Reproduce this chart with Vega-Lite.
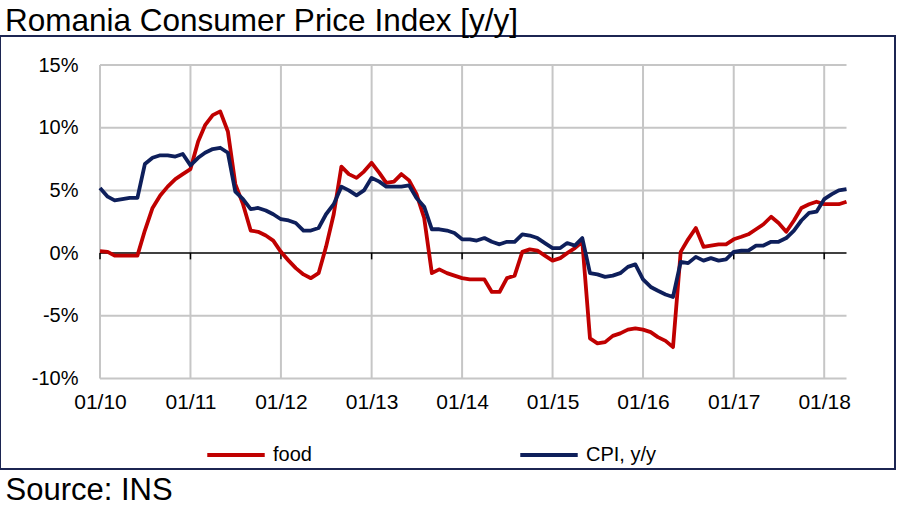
{
  "$schema": "https://vega.github.io/schema/vega-lite/v6.json",
  "width": 895,
  "height": 433,
  "autosize": {"type": "none"},
  "padding": {"left": 0, "top": 36, "right": 5, "bottom": 41},
  "background": "white",
  "title": {"text": "Romania Consumer Price Index [y/y]", "anchor": "start", "frame": "group", "orient": "top", "offset": 5, "baseline": "alphabetic", "dx": 5, "dy": 31, "font": "Liberation Sans", "fontSize": 31.5, "fontWeight": "normal", "color": "#000000"},
  "config": {"view": {"stroke": "#1c2552", "strokeWidth": 2}, "font": "Liberation Sans"},
  "datasets": {
    "cpi": [
      {"date": "2010-01-01", "food": 0.15, "cpi": 5.2},
      {"date": "2010-02-01", "food": 0.1, "cpi": 4.5},
      {"date": "2010-03-01", "food": -0.2, "cpi": 4.2},
      {"date": "2010-04-01", "food": -0.2, "cpi": 4.3},
      {"date": "2010-05-01", "food": -0.2, "cpi": 4.4},
      {"date": "2010-06-01", "food": -0.2, "cpi": 4.4},
      {"date": "2010-07-01", "food": 1.8, "cpi": 7.1},
      {"date": "2010-08-01", "food": 3.6, "cpi": 7.6},
      {"date": "2010-09-01", "food": 4.6, "cpi": 7.8},
      {"date": "2010-10-01", "food": 5.3, "cpi": 7.8},
      {"date": "2010-11-01", "food": 5.9, "cpi": 7.7},
      {"date": "2010-12-01", "food": 6.3, "cpi": 7.9},
      {"date": "2011-01-01", "food": 6.7, "cpi": 7.0},
      {"date": "2011-02-01", "food": 8.9, "cpi": 7.6},
      {"date": "2011-03-01", "food": 10.2, "cpi": 8.0},
      {"date": "2011-04-01", "food": 11.0, "cpi": 8.3},
      {"date": "2011-05-01", "food": 11.3, "cpi": 8.4},
      {"date": "2011-06-01", "food": 9.7, "cpi": 8.0},
      {"date": "2011-07-01", "food": 5.5, "cpi": 4.9},
      {"date": "2011-08-01", "food": 3.9, "cpi": 4.3},
      {"date": "2011-09-01", "food": 1.8, "cpi": 3.5},
      {"date": "2011-10-01", "food": 1.7, "cpi": 3.6},
      {"date": "2011-11-01", "food": 1.4, "cpi": 3.4},
      {"date": "2011-12-01", "food": 1.0, "cpi": 3.1},
      {"date": "2012-01-01", "food": 0.1, "cpi": 2.7},
      {"date": "2012-02-01", "food": -0.6, "cpi": 2.6},
      {"date": "2012-03-01", "food": -1.2, "cpi": 2.4},
      {"date": "2012-04-01", "food": -1.7, "cpi": 1.8},
      {"date": "2012-05-01", "food": -2.0, "cpi": 1.8},
      {"date": "2012-06-01", "food": -1.6, "cpi": 2.0},
      {"date": "2012-07-01", "food": 0.5, "cpi": 3.1},
      {"date": "2012-08-01", "food": 3.1, "cpi": 3.9},
      {"date": "2012-09-01", "food": 6.9, "cpi": 5.3},
      {"date": "2012-10-01", "food": 6.3, "cpi": 5.0},
      {"date": "2012-11-01", "food": 6.0, "cpi": 4.6},
      {"date": "2012-12-01", "food": 6.5, "cpi": 5.0},
      {"date": "2013-01-01", "food": 7.2, "cpi": 6.0},
      {"date": "2013-02-01", "food": 6.4, "cpi": 5.7},
      {"date": "2013-03-01", "food": 5.6, "cpi": 5.3},
      {"date": "2013-04-01", "food": 5.7, "cpi": 5.3},
      {"date": "2013-05-01", "food": 6.3, "cpi": 5.3},
      {"date": "2013-06-01", "food": 5.8, "cpi": 5.4},
      {"date": "2013-07-01", "food": 4.7, "cpi": 4.4},
      {"date": "2013-08-01", "food": 2.8, "cpi": 3.7},
      {"date": "2013-09-01", "food": -1.6, "cpi": 1.9},
      {"date": "2013-10-01", "food": -1.3, "cpi": 1.9},
      {"date": "2013-11-01", "food": -1.6, "cpi": 1.8},
      {"date": "2013-12-01", "food": -1.8, "cpi": 1.6},
      {"date": "2014-01-01", "food": -2.0, "cpi": 1.1},
      {"date": "2014-02-01", "food": -2.1, "cpi": 1.1},
      {"date": "2014-03-01", "food": -2.1, "cpi": 1.0},
      {"date": "2014-04-01", "food": -2.1, "cpi": 1.2},
      {"date": "2014-05-01", "food": -3.1, "cpi": 0.9},
      {"date": "2014-06-01", "food": -3.1, "cpi": 0.7},
      {"date": "2014-07-01", "food": -2.0, "cpi": 0.9},
      {"date": "2014-08-01", "food": -1.8, "cpi": 0.9},
      {"date": "2014-09-01", "food": 0.1, "cpi": 1.5},
      {"date": "2014-10-01", "food": 0.3, "cpi": 1.4},
      {"date": "2014-11-01", "food": 0.2, "cpi": 1.2},
      {"date": "2014-12-01", "food": -0.2, "cpi": 0.8},
      {"date": "2015-01-01", "food": -0.6, "cpi": 0.4},
      {"date": "2015-02-01", "food": -0.4, "cpi": 0.4},
      {"date": "2015-03-01", "food": 0.0, "cpi": 0.8},
      {"date": "2015-04-01", "food": 0.4, "cpi": 0.6},
      {"date": "2015-05-01", "food": 0.9, "cpi": 1.2},
      {"date": "2015-06-01", "food": -6.8, "cpi": -1.6},
      {"date": "2015-07-01", "food": -7.2, "cpi": -1.7},
      {"date": "2015-08-01", "food": -7.1, "cpi": -1.9},
      {"date": "2015-09-01", "food": -6.6, "cpi": -1.8},
      {"date": "2015-10-01", "food": -6.4, "cpi": -1.6},
      {"date": "2015-11-01", "food": -6.1, "cpi": -1.1},
      {"date": "2015-12-01", "food": -6.0, "cpi": -0.9},
      {"date": "2016-01-01", "food": -6.1, "cpi": -2.1},
      {"date": "2016-02-01", "food": -6.3, "cpi": -2.7},
      {"date": "2016-03-01", "food": -6.7, "cpi": -3.0},
      {"date": "2016-04-01", "food": -7.0, "cpi": -3.3},
      {"date": "2016-05-01", "food": -7.5, "cpi": -3.5},
      {"date": "2016-06-01", "food": 0.1, "cpi": -0.7},
      {"date": "2016-07-01", "food": 1.1, "cpi": -0.8},
      {"date": "2016-08-01", "food": 2.0, "cpi": -0.3},
      {"date": "2016-09-01", "food": 0.5, "cpi": -0.6},
      {"date": "2016-10-01", "food": 0.6, "cpi": -0.4},
      {"date": "2016-11-01", "food": 0.7, "cpi": -0.6},
      {"date": "2016-12-01", "food": 0.7, "cpi": -0.5},
      {"date": "2017-01-01", "food": 1.1, "cpi": 0.1},
      {"date": "2017-02-01", "food": 1.3, "cpi": 0.2},
      {"date": "2017-03-01", "food": 1.5, "cpi": 0.2},
      {"date": "2017-04-01", "food": 1.9, "cpi": 0.6},
      {"date": "2017-05-01", "food": 2.3, "cpi": 0.6},
      {"date": "2017-06-01", "food": 2.9, "cpi": 0.9},
      {"date": "2017-07-01", "food": 2.4, "cpi": 0.9},
      {"date": "2017-08-01", "food": 1.7, "cpi": 1.2},
      {"date": "2017-09-01", "food": 2.6, "cpi": 1.8},
      {"date": "2017-10-01", "food": 3.6, "cpi": 2.6},
      {"date": "2017-11-01", "food": 3.9, "cpi": 3.2},
      {"date": "2017-12-01", "food": 4.1, "cpi": 3.3},
      {"date": "2018-01-01", "food": 3.9, "cpi": 4.3},
      {"date": "2018-02-01", "food": 3.9, "cpi": 4.7},
      {"date": "2018-03-01", "food": 3.9, "cpi": 5.0},
      {"date": "2018-04-01", "food": 4.1, "cpi": 5.1}
    ],
    "years": [
      {"date": "2010-01-01"}, {"date": "2011-01-01"}, {"date": "2012-01-01"},
      {"date": "2013-01-01"}, {"date": "2014-01-01"}, {"date": "2015-01-01"},
      {"date": "2016-01-01"}, {"date": "2017-01-01"}, {"date": "2018-01-01"}
    ],
    "levels": [{"v": -10}, {"v": -5}, {"v": 5}, {"v": 10}, {"v": 15}]
  },
  "layer": [
    {
      "data": {"name": "levels"},
      "mark": {"type": "rule", "color": "#c6c6c6", "strokeWidth": 2},
      "encoding": {
        "y": {"field": "v", "type": "quantitative", "title": null, "scale": {"domain": [-10, 15], "range": [342.5, 29], "nice": false, "zero": false},
          "axis": {"orient": "left", "offset": -100, "domain": false, "ticks": false, "grid": false, "labelPadding": 22, "labelFontSize": 20, "labelColor": "#000000", "labelFont": "Liberation Sans", "values": [-10, -5, 0, 5, 10, 15], "labelExpr": "datum.value + '%'", "title": null}},
        "x": {"datum": {"year": 2010, "month": 1, "date": 1, "utc": true}, "type": "temporal", "title": "Source: INS",
          "scale": {"type": "utc", "domain": [{"year": 2010, "month": 1, "date": 1, "utc": true}, {"year": 2018, "month": 4, "date": 1, "utc": true}], "range": [100, 846.5]},
          "axis": {"orient": "bottom", "offset": -90.5, "domain": false, "ticks": false, "grid": false, "labelPadding": 13, "labelFontSize": 21, "labelFlush": false, "labelColor": "#000000", "labelFont": "Liberation Sans", "values": [{"year": 2010, "month": 1, "date": 1, "utc": true}, {"year": 2011, "month": 1, "date": 1, "utc": true}, {"year": 2012, "month": 1, "date": 1, "utc": true}, {"year": 2013, "month": 1, "date": 1, "utc": true}, {"year": 2014, "month": 1, "date": 1, "utc": true}, {"year": 2015, "month": 1, "date": 1, "utc": true}, {"year": 2016, "month": 1, "date": 1, "utc": true}, {"year": 2017, "month": 1, "date": 1, "utc": true}, {"year": 2018, "month": 1, "date": 1, "utc": true}], "labelExpr": "utcFormat(datum.value, '%m/%y')", "labelOverlap": false, "title": "Source: INS", "titleX": 5, "titleY": 111.5, "titleAlign": "left", "titleBaseline": "middle", "titleFontSize": 31, "titleFontWeight": "normal", "titleColor": "#000000", "titleFont": "Liberation Sans"}},
        "x2": {"datum": {"year": 2018, "month": 4, "date": 1, "utc": true}}
      }
    },
    {
      "data": {"name": "years"},
      "mark": {"type": "rule", "color": "#c6c6c6", "strokeWidth": 2},
      "encoding": {
        "x": {"field": "date", "type": "temporal", "title": "Source: INS"},
        "y": {"datum": -10, "type": "quantitative", "title": null},
        "y2": {"datum": 15}
      }
    },
    {
      "data": {"values": [{"v": 0}]},
      "mark": {"type": "rule", "color": "#000000", "strokeWidth": 1.5},
      "encoding": {
        "y": {"field": "v", "type": "quantitative", "title": null},
        "x": {"datum": {"year": 2010, "month": 1, "date": 1, "utc": true}, "type": "temporal", "title": "Source: INS"},
        "x2": {"datum": {"year": 2018, "month": 4, "date": 1, "utc": true}}
      }
    },
    {
      "data": {"name": "years"},
      "mark": {"type": "rule", "color": "#000000", "strokeWidth": 1.5},
      "encoding": {
        "x": {"field": "date", "type": "temporal", "title": "Source: INS"},
        "y": {"datum": 0, "type": "quantitative", "title": null},
        "y2": {"datum": -0.5}
      }
    },
    {
      "data": {"name": "cpi"},
      "transform": [{"fold": ["food", "cpi"], "as": ["series", "value"]}],
      "mark": {"type": "line", "strokeWidth": 3.8, "strokeJoin": "round"},
      "encoding": {
        "x": {"field": "date", "type": "temporal", "title": "Source: INS"},
        "y": {"field": "value", "type": "quantitative", "title": null},
        "color": {"field": "series", "type": "nominal", "scale": {"domain": ["food", "cpi"], "range": ["#c00000", "#0e1f5b"]}, "legend": {"orient": "none", "legendX": 205, "legendY": 388, "direction": "horizontal", "title": null, "symbolType": "stroke", "symbolSize": 3300, "symbolStrokeWidth": 4, "labelFontSize": 20, "labelFont": "Liberation Sans", "labelColor": "#000000", "labelOffset": 6, "columnPadding": 200, "labelExpr": "datum.label == 'cpi' ? 'CPI, y/y' : 'food'"}}
      }
    }
  ]
}
